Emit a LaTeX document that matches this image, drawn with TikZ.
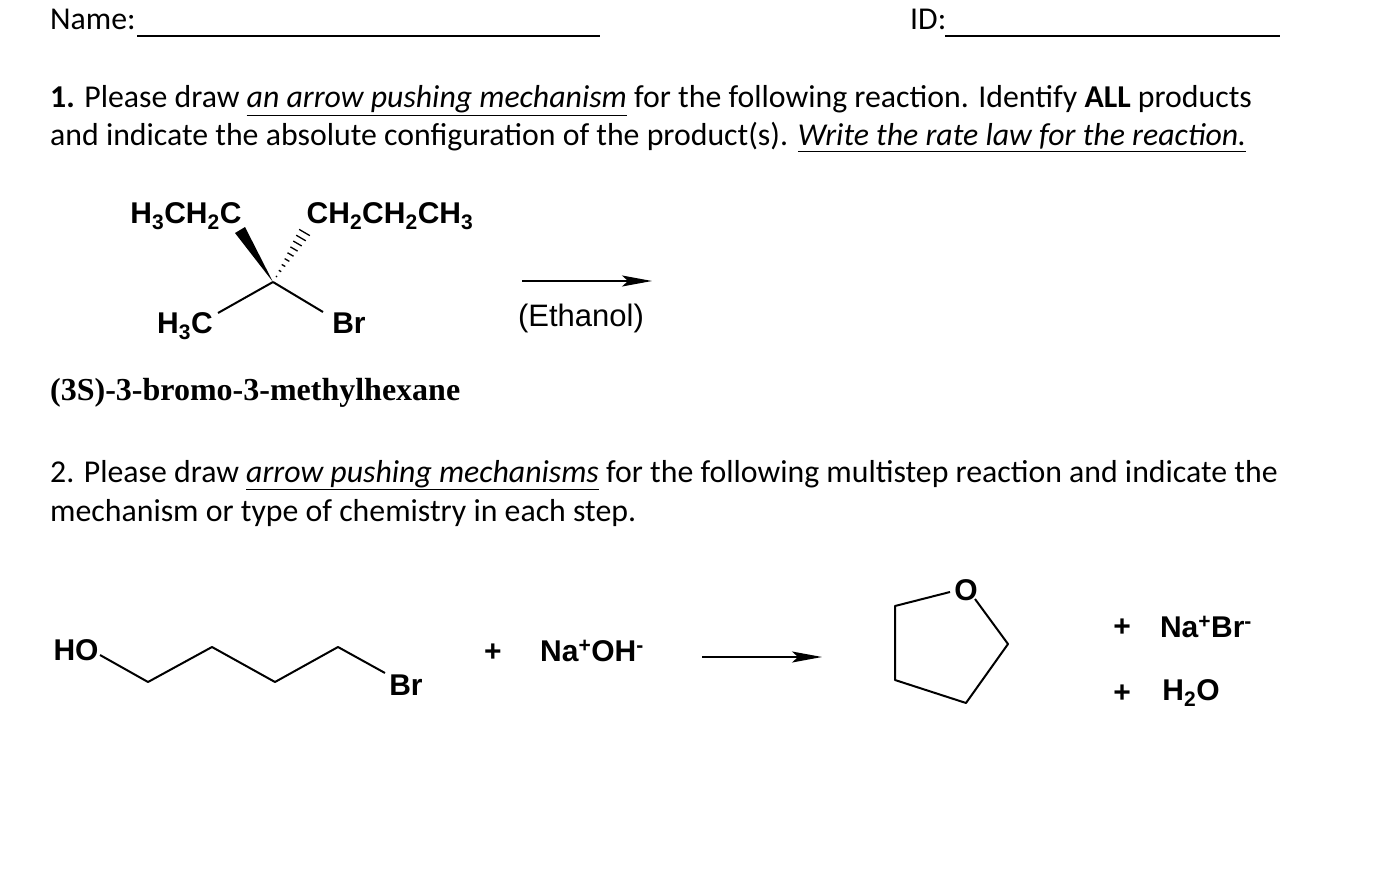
\documentclass[tikz,border=0pt]{standalone}
\usepackage{fontspec}
\setmainfont{Carlito}
\newfontfamily\arialf{Liberation Sans}
\newfontfamily\timesf{Liberation Serif}
\usetikzlibrary{arrows.meta,calc}
\newcommand{\sbs}[1]{\textsubscript{#1}}
\newcommand{\sps}[1]{\textsuperscript{#1}}
\tikzset{
  txt/.style={anchor=base west,inner sep=0pt,font=\fontsize{31.8}{36}\selectfont},
  chem/.style={inner sep=0pt,font=\arialf\bfseries\fontsize{30}{34}\selectfont},
  bond/.style={line width=2pt},
  rxn/.style={line width=1.6pt,-{Stealth[length=30pt,width=11pt,inset=6pt]}}
}
\begin{document}
\begin{tikzpicture}[x=1pt,y=-1pt]
\useasboundingbox (0,0) rectangle (1394,872);
% header
\node[txt] (name) at (50,30) {Name:};
\draw[line width=1.3pt] (137,36) -- (600,36);
\node[txt] (id) at (910,30) {ID:};
\draw[line width=1.3pt] (945,36) -- (1280,36);
% Q1
\node[txt] (q1a) at (50,108) {\textbf{1.} Please draw \underline{\textit{an arrow pushing mechanism}} for the following reaction. Identify \textbf{ALL} products};
\node[txt] (q1b) at (50,146) {and indicate the absolute configuration of the product(s). \underline{\textit{Write the rate law for the reaction.}}};
% molecule 1
\coordinate (c) at (273,282);
\node[chem] (et) at (186,216) {H\sbs{3}CH\sbs{2}C};
\node[chem] (pr) at (390,216) {CH\sbs{2}CH\sbs{2}CH\sbs{3}};
\node[chem] (me) at (185,326) {H\sbs{3}C};
\node[chem] (br1) at (349,323) {Br};
\fill (c) -- (235,233) -- (245,227) -- cycle;
\foreach \t in {0.1,0.2,...,0.95}{
  \draw[line width=1.3pt] ($(c)!\t!(308,227)+(-\t*6,-\t*3.5)$) -- ($(c)!\t!(308,227)+(\t*6,\t*3.5)$);
}
\draw[bond] (c) -- (218,313);
\draw[bond] (c) -- (323,312);
\node[inner sep=0pt,font=\arialf\fontsize{31}{34}\selectfont] (eth) at (581,318) {(Ethanol)};
\coordinate (a1s) at (522,281); \coordinate (a1e) at (652,281);
\draw[rxn] (a1s) -- (a1e);
\node[inner sep=0pt,anchor=base west,font=\timesf\bfseries\fontsize{32}{36}\selectfont] (nm) at (50,400) {(3S)-3-bromo-3-methylhexane};
% Q2
\node[txt] (q2a) at (50,482) {2. Please draw \underline{\textit{arrow pushing mechanisms}} for the following multistep reaction and indicate the};
\node[txt] (q2b) at (50,521) {mechanism or type of chemistry in each step.};
% molecule 2
\node[chem] (ho) at (76,650) {HO};
\node[chem] (br2) at (406,685) {Br};
\draw[bond,line join=round] (100,655) -- (148,682) -- (212,647) -- (275,682) -- (338,647) -- (385,673);
\node[chem] (p1) at (493,653) {+};
\node[chem] (naoh) at (592,651) {Na\sps{+}OH\sps{-}};
\coordinate (a2s) at (702,657); \coordinate (a2e) at (822,657);
\draw[rxn] (a2s) -- (a2e);
\node[chem] (o) at (966,590) {O};
\draw[bond,line join=round] (950,592) -- (895,606) -- (895,680) -- (966,703) -- (1008,644) -- (975,599);
\node[chem] (p2) at (1122,628) {+};
\node[chem] (nabr) at (1206,627) {Na\sps{+}Br\sps{-}};
\node[chem] (p3) at (1122,694) {+};
\node[chem] (h2o) at (1191,693) {H\sbs{2}O};
\end{tikzpicture}
\end{document}
